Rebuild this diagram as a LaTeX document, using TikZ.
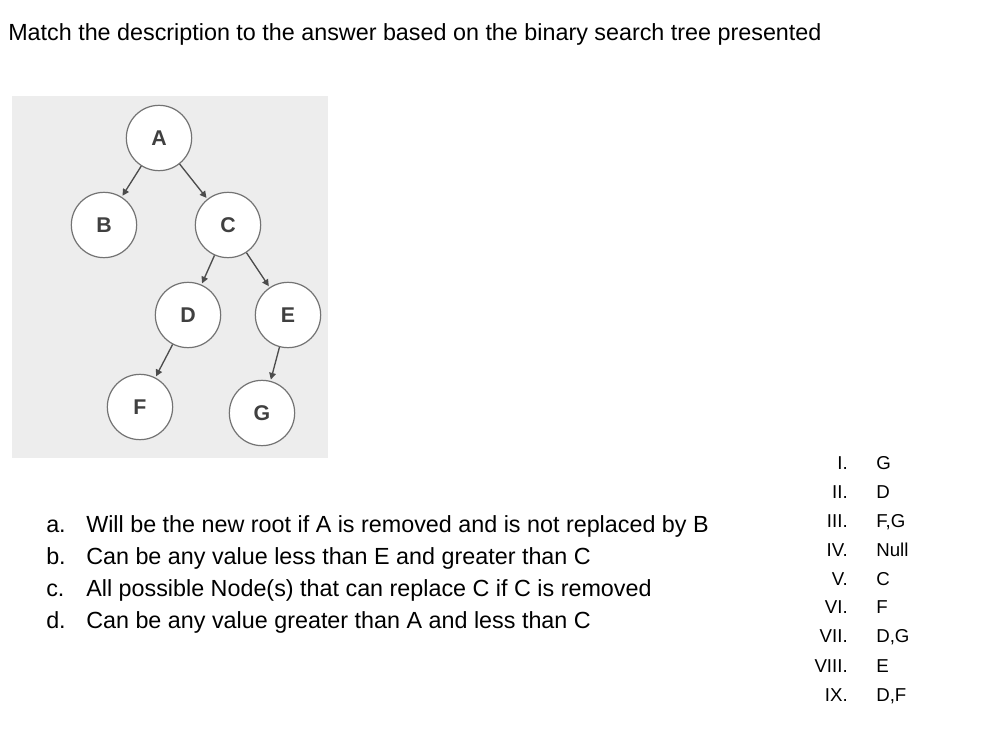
\documentclass[tikz,border=0pt]{standalone}
\usepackage{fontspec}
\setmainfont{Liberation Sans}
\usetikzlibrary{arrows.meta}
\begin{document}
\begin{tikzpicture}[x=0.75pt,y=-0.75pt,
  tn/.style={circle,draw=black!55,line width=0.9pt,fill=white,minimum size=49pt,inner sep=0pt,font=\fontsize{16}{16}\selectfont\bfseries,text=black!75},
  ar/.style={-{Triangle[length=5pt,width=5pt]},draw=black!70,line width=1pt,shorten >=1pt},
  txt/.style={anchor=base west,inner sep=0pt,font=\fontsize{17.5}{20}\selectfont},
  rn/.style={anchor=base east,inner sep=0pt,font=\fontsize{14}{16}\selectfont},
  rl/.style={anchor=base west,inner sep=0pt,font=\fontsize{14}{16}\selectfont}]
\useasboundingbox (0,0) rectangle (996,742);
\fill[white] (0,0) rectangle (996,742);
\fill[black!7] (12,96) rectangle (328,458);
\node[txt] (title) at (8,41) {Match the description to the answer based on the binary search tree presented};
\node[tn] (A) at (159,138) {A};
\node[tn] (B) at (104,225) {B};
\node[tn] (C) at (228,225) {C};
\node[tn] (D) at (188,315) {D};
\node[tn] (E) at (288,315) {E};
\node[tn] (F) at (140,407) {F};
\node[tn] (G) at (262,413) {G};
\draw[ar] (A) -- (B);
\draw[ar] (A) -- (C);
\draw[ar] (C) -- (D);
\draw[ar] (C) -- (E);
\draw[ar] (D) -- (F);
\draw[ar] (E) -- (G);
\foreach \l/\t [count=\i] in {a./Will be the new root if A is removed and is not replaced by B,
  b./Can be any value less than E and greater than C,
  c./All possible Node(s) that can replace C if C is removed,
  d./Can be any value greater than A and less than C}{
  \node[txt] (l\i) at (46,{500+32*\i}) {\l};
  \node[txt] (t\i) at (86,{500+32*\i}) {\t};
}
\foreach \r/\v/\y [count=\i] in {I./G/469, II./D/498, III./{F,G}/527, IV./Null/556, V./C/585, VI./F/613, VII./{D,G}/642, VIII./E/672, IX./{D,F}/701}{
  \node[rn] (r\i) at (848,\y) {\r};
  \node[rl] (v\i) at (876,\y) {\v};
}
\end{tikzpicture}
\end{document}
